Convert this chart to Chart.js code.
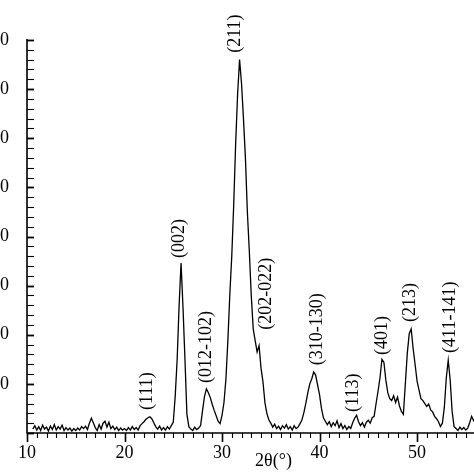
<!DOCTYPE html>
<html>
<head>
<meta charset="utf-8">
<script src="https://cdn.jsdelivr.net/npm/chart.js@4.4.1/dist/chart.umd.min.js"></script>
<style>
  html, body { margin: 0; padding: 0; background: #fff; overflow: hidden; width: 474px; height: 474px; }
  #xrd { position: absolute; left: -40px; top: 0; }
</style>
</head>
<body>
<canvas id="xrd" width="590" height="474"></canvas>
<script>
// scan grid: 2theta from 10.6 deg, one reading every 0.2 deg
var angleStart = 10.6;
var angleStep = 0.2;

// intensity, one row per degree
var intensity = [
    8, 15,                 // 10.6 - 10.8
    6, 13, 5, 16, 8,       // 11
    12, 4, 14, 7, 17,      // 12
    6, 13, 8, 16, 5,       // 13
    11, 6, 10, 4, 9,       // 14
    5, 10, 6, 13, 9,       // 15
    14, 7, 20, 30, 21,     // 16
    11, 5, 17, 8, 20,      // 17
    24, 12, 22, 9, 14,     // 18
    7, 12, 5, 10, 6,       // 19
    9, 5, 11, 6, 13,       // 20
    7, 11, 6, 15, 19,      // 21
    23, 28, 31, 33, 29,    // 22
    21, 13, 8, 14, 6,      // 23
    11, 6, 13, 8, 15,      // 24
    22, 75, 150, 260, 346, // 25
    255, 150, 38, 13, 8,   // 26
    5, 12, 7, 10, 15,      // 27
    45, 74, 90, 82, 72,    // 28
    58, 46, 35, 24, 19,    // 29
    36, 62, 110, 188, 282, // 30
    360, 465, 590, 690, 760, // 31
    712, 640, 560, 450, 370, // 32
    280, 212, 188, 165, 178, // 33
    132, 104, 62, 40, 27,  // 34
    20, 12, 18, 9, 14,     // 35
    7, 15, 10, 17, 8,      // 36
    13, 6, 15, 9, 12,      // 37
    19, 27, 42, 61, 82,    // 38
    100, 110, 124, 118, 98, // 39
    78, 50, 31, 24, 17,    // 40
    23, 13, 21, 15, 25,    // 41
    11, 19, 9, 15, 7,      // 42
    13, 9, 21, 30, 36,     // 43
    23, 15, 21, 12, 22,    // 44
    26, 20, 31, 34, 60,    // 45
    85, 112, 150, 144, 108, // 46
    82, 70, 66, 76, 62,    // 47
    73, 55, 44, 38, 100,   // 48
    162, 202, 212, 172, 140, // 49
    106, 88, 70, 66, 60,   // 50
    54, 59, 47, 43, 34,    // 51
    29, 23, 13, 20, 52,    // 52
    112, 148, 108, 44, 13, // 53
    9, 5, 12, 7, 11,       // 54
    6, 10, 21, 34, 25,     // 55
    31                     // 56
];

// peak labels: text, 2theta of the label, intensity where the label starts
var peakNames  = ['(111)', '(002)', '(012-102)', '(211)', '(202-022)', '(310-130)', '(113)', '(401)', '(213)', '(411-141)'];
var peakAngles = [22.3, 25.6, 28.4, 31.4, 34.5, 39.8, 43.5, 46.4, 49.3, 53.4];
var peakBases  = [47, 356, 102, 774, 210, 138, 43, 159, 226, 163];

var xMin = 10, xMax = 60.56, xStep = 10;
var yMin = 0, yMax = 800, yStep = 100;

var serif = "'Liberation Serif', 'Times New Roman', serif";

var points = [];
for (var i = 0; i < intensity.length; i++) {
    points.push({ x: +(angleStart + i * angleStep).toFixed(1), y: intensity[i] });
}

// axes with inward y ticks, outward x ticks, minor ticks, and the peak labels
var xrdDecor = {
    id: 'xrdDecor',
    afterDraw: function(chart) {
        var ctx = chart.ctx, a = chart.chartArea;
        var xs = chart.scales.x, ys = chart.scales.y;
        ctx.save();
        ctx.strokeStyle = '#000';
        ctx.lineWidth = 1.6;
        ctx.beginPath();
        ctx.moveTo(a.left, a.top - 1);
        ctx.lineTo(a.left, a.bottom);
        ctx.lineTo(a.right, a.bottom);
        ctx.stroke();

        for (var v = yMin; v <= yMax; v += 20) {
            var py = Math.round(ys.getPixelForValue(v)) + 0.5;
            ctx.lineWidth = v % yStep === 0 ? 1.8 : 1.1;
            ctx.beginPath();
            ctx.moveTo(a.left, py);
            ctx.lineTo(a.left + 7, py);
            ctx.stroke();
        }
        for (var t = xMin; t <= xMax; t += 1) {
            var px = Math.round(xs.getPixelForValue(t)) + 0.5;
            var major = t % xStep === 0;
            ctx.lineWidth = major ? 1.6 : 1.1;
            ctx.beginPath();
            ctx.moveTo(px, a.bottom);
            ctx.lineTo(px, a.bottom + (major ? 9 : 5));
            ctx.stroke();
        }

        ctx.fillStyle = '#000';
        ctx.font = '18px ' + serif;
        ctx.textAlign = 'left';
        ctx.textBaseline = 'middle';
        for (var k = 0; k < peakNames.length; k++) {
            ctx.save();
            ctx.translate(xs.getPixelForValue(peakAngles[k]), ys.getPixelForValue(peakBases[k]));
            ctx.rotate(-Math.PI / 2);
            ctx.fillText(peakNames[k], 0, 0);
            ctx.restore();
        }
        ctx.restore();
    }
};

var ctx = document.getElementById('xrd');
new Chart(ctx, {
    type: 'line',
    data: {
        datasets: [{
            label: 'XRD',
            data: points,
            borderColor: '#000',
            borderWidth: 1.3,
            pointRadius: 0,
            tension: 0,
            fill: false
        }]
    },
    options: {
        responsive: false,
        animation: false,
        devicePixelRatio: 1,
        layout: { padding: { top: 40, right: 30, left: 0, bottom: 0 } },
        plugins: {
            legend: { display: false },
            tooltip: { enabled: false }
        },
        scales: {
            x: {
                type: 'linear',
                min: xMin,
                max: xMax,
                grid: { display: false, drawTicks: false },
                border: { display: false },
                ticks: {
                    stepSize: xStep,
                    color: '#000',
                    padding: 9,
                    maxRotation: 0,
                    font: { family: serif, size: 18 },
                    callback: function(v) { return v % xStep === 0 ? v : ''; }
                },
                title: {
                    display: true,
                    text: '2θ(°)',
                    color: '#000',
                    font: { family: serif, size: 18 },
                    padding: { top: 0, bottom: 2 }
                },
                afterFit: function(s) { s.height = 41; }
            },
            y: {
                min: yMin,
                max: yMax,
                grid: { display: false, drawTicks: false },
                border: { display: false },
                ticks: {
                    stepSize: yStep,
                    color: '#000',
                    padding: 18,
                    font: { family: serif, size: 18 },
                    callback: function(v) { return v === 0 ? '' : v; }
                },
                afterFit: function(s) { s.width = 67; }
            }
        }
    },
    plugins: [xrdDecor]
});
</script>
</body>
</html>
